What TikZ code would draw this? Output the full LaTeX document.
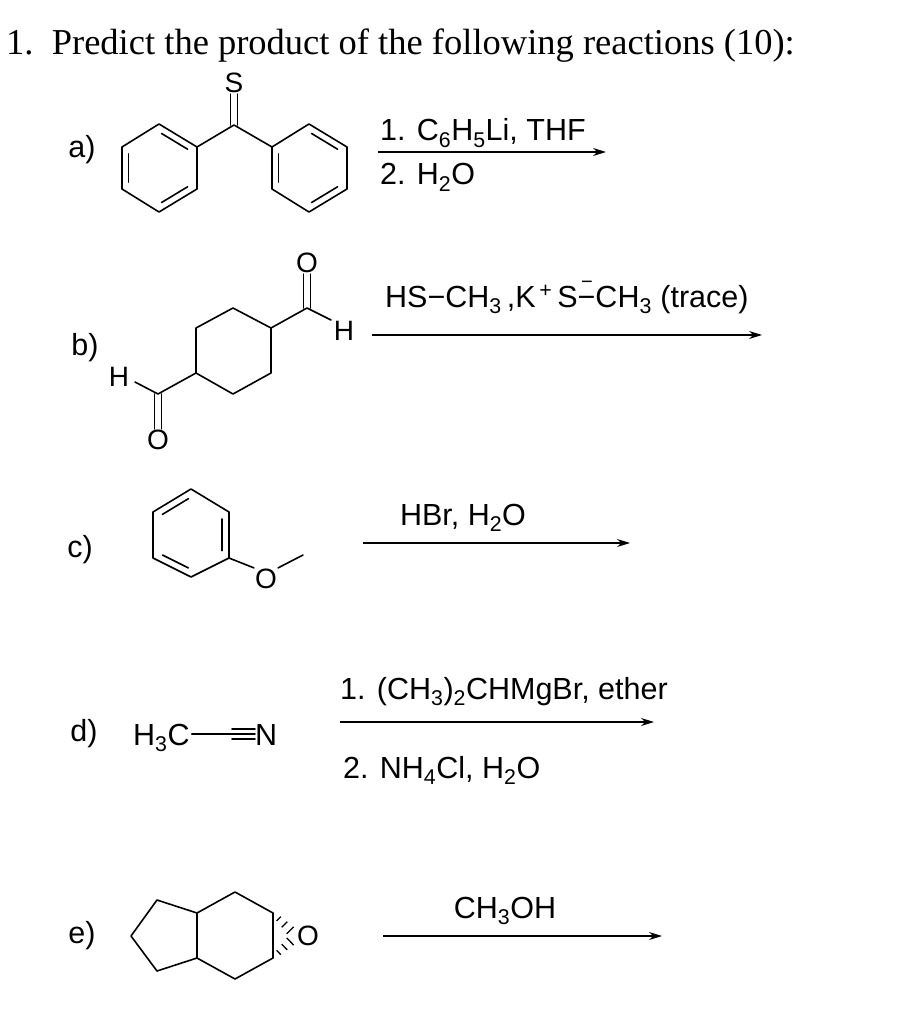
\documentclass[tikz,border=0pt]{standalone}
\usepackage{fontspec}
\setmainfont{Liberation Sans}
\newfontfamily\titlefont{Liberation Serif}
\usetikzlibrary{calc,arrows.meta}
\newcommand{\subx}[1]{\textsubscript{#1}}
\tikzset{bond/.style={line width=1.6pt,line cap=round,line join=round},
 lab/.style={font=\fontsize{30.5}{34}\selectfont,inner sep=0pt},
 atom/.style={font=\fontsize{28}{30}\selectfont,inner sep=1pt,fill=white},
 rxn/.style={line width=1.3pt,-{Stealth[length=13pt,width=8pt]}}}
\newcommand{\inb}[3]{\draw[bond,shorten <=3pt,shorten >=3pt] ($(#1)!0.18!(#3)$) -- ($(#2)!0.18!(#3)$);}
\begin{document}
\begin{tikzpicture}[x=1pt,y=-1pt]
\useasboundingbox (0,0) rectangle (915,1024);
\node[anchor=base west,inner sep=0pt,font=\titlefont\fontsize{36.5}{40}\selectfont] (title) at (6,55) {1.\ \ Predict the product of the following reactions (10):};
% a
\node[lab] (la) at (82,150) {a)};
\foreach \n/\x/\y in {a1/159/124,a2/197/147,a3/197/189,a4/159/212,a5/122/189,a6/122/147,ac/159/168,
 b1/309/124,b2/347/147,b3/347/189,b4/309/212,b5/272/189,b6/272/147,bc/309/168,cc/234/125}
 \coordinate (\n) at (\x,\y);
\draw[bond] (a1)--(a2)--(a3)--(a4)--(a5)--(a6)--cycle;
\draw[bond] (b1)--(b2)--(b3)--(b4)--(b5)--(b6)--cycle;
\inb{a1}{a2}{ac}\inb{a3}{a4}{ac}\inb{a5}{a6}{ac}
\inb{b1}{b2}{bc}\inb{b3}{b4}{bc}\inb{b5}{b6}{bc}
\node[atom] (S) at (234,83) {S};
\draw[bond] (a2)--(cc)--(b6);
\draw[bond] ([xshift=-3.5pt]cc) -- ([xshift=-3.5pt]S.south);
\draw[bond] ([xshift=3.5pt]cc) -- ([xshift=3.5pt]S.south);
\coordinate (ra1) at (378,152); \coordinate (ra2) at (606,152);
\draw[rxn] (ra1)--(ra2);
\node[lab,anchor=base west] (ta1) at (380,141) {1. C\subx{6}H\subx{5}Li, THF};
\node[lab,anchor=base west] (ta2) at (380,185) {2. H\subx{2}O};
% b
\node[lab] (lb) at (85,348) {b)};
\foreach \n/\x/\y in {c1/233/308,c2/271/328,c3/271/373,c4/233/394,c5/196/373,c6/196/328,
 cr/307/308,crh/331/320,cl/158/394,clh/135/382}
 \coordinate (\n) at (\x,\y);
\draw[bond] (c1)--(c2)--(c3)--(c4)--(c5)--(c6)--cycle;
\node[atom] (Or) at (307,263) {O};
\node[atom] (Hr) at (344,331) {H};
\node[atom] (Ol) at (158,440) {O};
\node[atom] (Hl) at (119,377) {H};
\draw[bond] (c2)--(cr)--(crh);
\draw[bond] (c5)--(cl)--(clh);
\draw[bond] ([xshift=-3.5pt]cr)--([xshift=-3.5pt]Or.south);
\draw[bond] ([xshift=3.5pt]cr)--([xshift=3.5pt]Or.south);
\draw[bond] ([xshift=-3.5pt]cl)--([xshift=-3.5pt]Ol.north);
\draw[bond] ([xshift=3.5pt]cl)--([xshift=3.5pt]Ol.north);
\coordinate (rb1) at (372,335); \coordinate (rb2) at (762,335);
\draw[rxn] (rb1)--(rb2);
\node[lab,anchor=base west] (tb) at (385,307) {HS−CH\subx{3}\,,K\textsuperscript{\,+}\,S\rlap{\raisebox{0.62em}{\fontsize{20}{20}\selectfont\,−}}−CH\subx{3} (trace)};
% c
\node[lab] (lc) at (80,550) {c)};
\foreach \n/\x/\y in {d1/191/489,d2/229/512,d3/229/558,d4/191/577,d5/153/558,d6/153/512,dc/191/534,dm/303/555}
 \coordinate (\n) at (\x,\y);
\draw[bond] (d1)--(d2)--(d3)--(d4)--(d5)--(d6)--cycle;
\inb{d6}{d1}{dc}\inb{d2}{d3}{dc}\inb{d4}{d5}{dc}
\node[atom,fill=none] (Oc) at (266,579) {O};
\draw[bond] (d3)--(Oc.north west);
\draw[bond] (Oc.north east)--(dm);
\coordinate (rc1) at (363,543); \coordinate (rc2) at (630,543);
\draw[rxn] (rc1)--(rc2);
\node[lab,anchor=base] (tc) at (463,525) {HBr, H\subx{2}O};
% d
\node[lab] (ld) at (84,734) {d)};
\node[lab,anchor=base west] (h3c) at (133,745) {H\subx{3}C};
\node[lab,anchor=base west] (N) at (255,745) {N};
\coordinate (dt) at (232,734);
\draw[bond] (h3c.east|-dt) ++(2pt,0) -- (dt);
\draw[bond] (dt)--(N.west|-dt);
\draw[bond] ([yshift=-5pt]dt)--([yshift=-5pt]N.west|-dt);
\draw[bond] ([yshift=5pt]dt)--([yshift=5pt]N.west|-dt);
\coordinate (rd1) at (340,722); \coordinate (rd2) at (654,722);
\draw[rxn] (rd1)--(rd2);
\node[lab,anchor=base west] (td1) at (340,699) {1. (CH\subx{3})\subx{2}CHMgBr, ether};
\node[lab,anchor=base west] (td2) at (343,778) {2. NH\subx{4}Cl, H\subx{2}O};
% e
\node[lab] (le) at (82,936) {e)};
\foreach \n/\x/\y in {e1/157/900,e2/131/936,e3/157/971,e4/197/958,e5/197/913,
 f1/235/892,f2/273/913,f3/273/958,f4/235/979}
 \coordinate (\n) at (\x,\y);
\draw[bond] (e5)--(e1)--(e2)--(e3)--(e4)--(e5);
\draw[bond] (e5)--(f1)--(f2)--(f3)--(f4)--(e4);
\node[atom,fill=none] (Oe) at (308,936) {O};
\foreach \t in {0.25,0.5,0.75}{
 \pgfmathsetmacro\w{2+4*\t}
 \coordinate (p) at ($(f2)!\t!(Oe.west)$);
 \draw[line width=1.3pt] ($(p)!\w pt!90:(Oe.west)$) -- ($(p)!\w pt!-90:(Oe.west)$);
 \coordinate (q) at ($(f3)!\t!(Oe.west)$);
 \draw[line width=1.3pt] ($(q)!\w pt!90:(Oe.west)$) -- ($(q)!\w pt!-90:(Oe.west)$);}
\coordinate (re1) at (383,936); \coordinate (re2) at (662,936);
\draw[rxn] (re1)--(re2);
\node[lab,anchor=base] (te) at (505,918) {CH\subx{3}OH};
\end{tikzpicture}
\end{document}
